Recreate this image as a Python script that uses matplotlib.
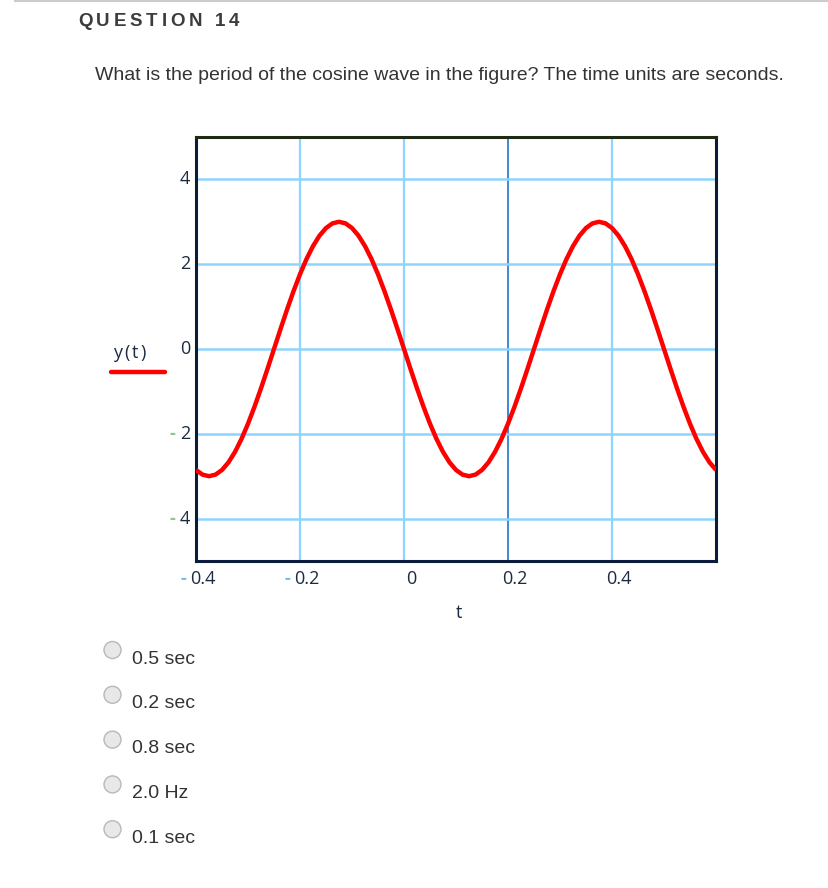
import numpy as np
import matplotlib
matplotlib.use("Agg")
import matplotlib.pyplot as plt
import matplotlib.transforms as mtransforms
from matplotlib.patches import Circle
from matplotlib.lines import Line2D

# ---------------- data ----------------
t_vals = np.linspace(-0.4, 0.6, 81)
y_vals = [-2.853, -2.963, -3.0, -2.963, -2.853, -2.673, -2.427, -2.121, -1.763, -1.362,
          -0.927, -0.469, 0.0, 0.469, 0.927, 1.362, 1.763, 2.121, 2.427, 2.673,
          2.853, 2.963, 3.0, 2.963, 2.853, 2.673, 2.427, 2.121, 1.763, 1.362,
          0.927, 0.469, 0.0, -0.469, -0.927, -1.362, -1.763, -2.121, -2.427, -2.673,
          -2.853, -2.963, -3.0, -2.963, -2.853, -2.673, -2.427, -2.121, -1.763, -1.362,
          -0.927, -0.469, 0.0, 0.469, 0.927, 1.362, 1.763, 2.121, 2.427, 2.673,
          2.853, 2.963, 3.0, 2.963, 2.853, 2.673, 2.427, 2.121, 1.763, 1.362,
          0.927, 0.469, 0.0, -0.469, -0.927, -1.362, -1.763, -2.121, -2.427, -2.673,
          -2.853]
x_ticks = [-0.4, -0.2, 0.0, 0.2, 0.4]
x_tick_labels = ["0.4", "0.2", "0", "0.2", "0.4"]
y_ticks = [4, 2, 0, -2, -4]
y_tick_labels = ["4", "2", "0", "2", "4"]
x_grid_light = [-0.2, 0.0, 0.4]
x_grid_dark = [0.2]
y_grid = [4, 2, 0, -2, -4]
options = ["0.5 sec", "0.2 sec", "0.8 sec", "2.0 Hz", "0.1 sec"]
title_text = "QUESTION 14"
question_text = "What is the period of the cosine wave in the figure? The time units are seconds."
legend_label = "y(t)"
x_label = "t"

W, H = 829, 888
fig = plt.figure(figsize=(W / 100, H / 100), dpi=100)

# overlay axes in pixel coordinates
ov = fig.add_axes([0, 0, 1, 1], zorder=0)
ov.set_xlim(0, W)
ov.set_ylim(H, 0)
ov.axis("off")

fig.canvas.draw()
renderer = fig.canvas.get_renderer()

# top rule
ov.add_line(Line2D([15, W], [1.5, 1.5], color="#cccccc", lw=1.5))

# letter-spaced title
x = 78
for ch in title_text:
    txt = ov.text(x, 22, ch, fontsize=13.5, fontweight="bold", family="Liberation Sans",
                  color="#3c3c3c", va="center", ha="left")
    w = txt.get_window_extent(renderer).width
    if ch == " ":
        w = 5
    x += w + 3.8

ov.text(95, 76, question_text, fontsize=14, family="Liberation Sans",
        color="#333333", va="center", ha="left")

tick_font = dict(family="Open Sans", fontsize=13, color="#1a2a40")

# y(t) label (letter-spaced) with red legend stroke
x = 113
for ch in legend_label:
    txt = ov.text(x, 353, ch, va="center", ha="left", **tick_font)
    x += txt.get_window_extent(renderer).width + 2.2
ov.add_line(Line2D([111, 165], [372, 372], color="#ff0000", lw=3.2, solid_capstyle="round"))

# t label
ov.text(459, 613, x_label, va="center", ha="center", **tick_font)

# radio options
for i, opt in enumerate(options):
    yc = 659 + i * 44.8
    ov.add_patch(Circle((112.5, yc - 9), 8.5, facecolor="#e8e8e8", edgecolor="#b8b8b8", lw=1))
    ov.text(132, yc, opt, fontsize=14, family="Liberation Sans", color="#333333",
            va="center", ha="left")

# ---------------- main plot ----------------
left, right, top, bottom = 196, 716, 137, 561
ax = fig.add_axes([left / W, 1 - bottom / H, (right - left) / W, (bottom - top) / H], zorder=2)
ax.set_xlim(-0.4, 0.6)
ax.set_ylim(-5, 5)
ax.set_xticks([])
ax.set_yticks([])
for xv in x_grid_light:
    ax.axvline(xv, color="#8dd4ff", lw=1.6, zorder=1)
for xv in x_grid_dark:
    ax.axvline(xv, color="#2f7fd0", lw=1.3, zorder=1)
for yv in y_grid:
    ax.axhline(yv, color="#8dd4ff", lw=1.8, zorder=1)

ax.plot(t_vals, y_vals, color="#ff0000", lw=3.2, zorder=3, solid_capstyle="butt")

for s in ax.spines.values():
    s.set_color("#0b1b3b")
    s.set_linewidth(2.2)
ax.spines["top"].set_color("#1e2a14")

# tick labels
tx = mtransforms.blended_transform_factory(ax.transData, ax.transAxes)
ty = mtransforms.blended_transform_factory(ax.transAxes, ax.transData)
for v, lab in zip(x_ticks, x_tick_labels):
    tr = mtransforms.offset_copy(tx, fig=fig, x=7, y=-18, units="dots")
    t = ax.text(v, 0, lab, transform=tr, ha="center", va="center", clip_on=False, **tick_font)
    if v < 0:
        w = t.get_window_extent(renderer).width
        trm = mtransforms.offset_copy(tx, fig=fig, x=7 - w / 2 - 4, y=-18, units="dots")
        ax.text(v, 0, "-", transform=trm, ha="right", va="center", clip_on=False,
                family="Open Sans", fontsize=13, fontweight="bold", color="#6fbfef")
for v, lab in zip(y_ticks, y_tick_labels):
    tr = mtransforms.offset_copy(ty, fig=fig, x=-6, y=0, units="dots")
    t = ax.text(0, v, lab, transform=tr, ha="right", va="center", clip_on=False, **tick_font)
    if v < 0:
        w = t.get_window_extent(renderer).width
        trm = mtransforms.offset_copy(ty, fig=fig, x=-6 - w - 4, y=0, units="dots")
        ax.text(0, v, "-", transform=trm, ha="right", va="center", clip_on=False,
                family="Open Sans", fontsize=13, fontweight="bold", color="#8cc88c")

fig.savefig("out.png", dpi=100)
